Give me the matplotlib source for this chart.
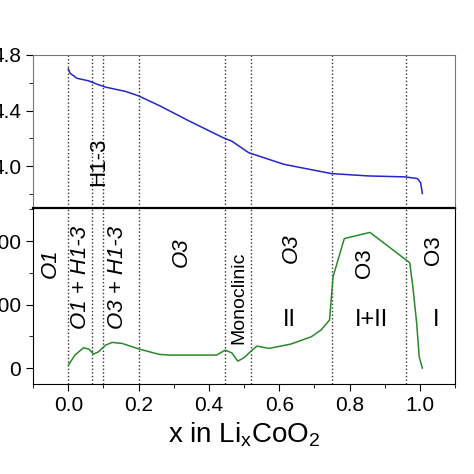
import matplotlib
matplotlib.use("Agg")
import matplotlib.pyplot as plt
from matplotlib.ticker import MultipleLocator

plt.rcParams['font.family'] = ['Liberation Sans', 'DejaVu Sans']

# voltage curve (upper panel)
x_volt = [0.0, 0.005, 0.024, 0.058, 0.086, 0.106, 0.163, 0.199, 0.259, 0.345,
          0.441, 0.465, 0.513, 0.614, 0.748, 0.854, 0.959, 0.993, 1.002, 1.007]
volt = [4.70, 4.669, 4.633, 4.614, 4.586, 4.569, 4.538, 4.507, 4.436, 4.324,
        4.205, 4.181, 4.098, 4.014, 3.948, 3.931, 3.924, 3.912, 3.883, 3.805]

# second quantity (lower panel)
x_low = [0.0, 0.019, 0.043, 0.058, 0.072, 0.086, 0.106, 0.125, 0.153, 0.201,
         0.259, 0.288, 0.422, 0.446, 0.465, 0.482, 0.499, 0.523, 0.537, 0.571,
         0.633, 0.691, 0.719, 0.743, 0.753, 0.785, 0.858, 0.971, 0.980, 0.991,
         0.998, 1.007]
low = [4.7, 20.5, 32, 30, 22, 25.7, 36.2, 40.4, 38.8, 30,
       21.5, 20.5, 20.5, 28.3, 24, 11, 16, 28.3, 34.6, 31,
       37.8, 49.3, 60, 75.6, 143.8, 204, 213.7, 166, 128, 70,
       17.8, 0]

# phase boundaries
boundaries = [0.0, 0.067, 0.1, 0.2, 0.445, 0.52, 0.75, 0.96]

# phase labels: (x, y, text, italic, size)
phase_labels = [
    (-0.05, 165, "O1", True, 16),
    (0.034, 143, "O1 + H1-3", True, 16),
    (0.14, 143, "O3 + H1-3", True, 16),
    (0.32, 183, "O3", True, 16),
    (0.484, 111, "Monoclinic", False, 14),
    (0.633, 189, "O3", True, 16),
    (0.843, 165, "O3", False, 16),
    (1.04, 186, "O3", False, 16),
]
region_labels = [(0.628, 75, "II"), (0.863, 75, "I+II"), (1.045, 75, "I")]

fig = plt.figure(figsize=(4.74, 4.74), dpi=100)
ax1 = fig.add_axes([0.07, 0.561, 0.89, 0.323])
ax2 = fig.add_axes([0.07, 0.19, 0.89, 0.371], sharex=ax1)

for ax in (ax1, ax2):
    for b in boundaries:
        ax.axvline(b, color='#333333', linestyle=(0, (1, 1.6)), linewidth=1)

ax1.plot(x_volt, volt, color='#2525cc', linewidth=1.1)
ax1.set_ylim(3.7, 4.8)
ax1.yaxis.set_minor_locator(MultipleLocator(0.2))
ax1.set_yticks([4.0, 4.4, 4.8])
ax1.tick_params(axis='x', which='both', bottom=False, labelbottom=False)
for s in ['top', 'right', 'left']:
    ax1.spines[s].set_color('#777777')
ax1.text(0.085, 4.03, "H1-3", rotation=90, ha='center', va='center', fontsize=16)

ax2.plot(x_low, low, color='#2a8a2a', linewidth=1.1)
ax2.set_ylim(-25, 252)
ax2.set_yticks([0, 100, 200])
ax2.yaxis.set_minor_locator(MultipleLocator(50))
ax2.set_xlim(-0.1, 1.1)
ax2.set_xticks([0.0, 0.2, 0.4, 0.6, 0.8, 1.0])
ax2.xaxis.set_minor_locator(MultipleLocator(0.1))
ax2.spines['top'].set_linewidth(1.6)

for x, y, t, it, fs in phase_labels:
    ax2.text(x, y, t, rotation=90, ha='center', va='center', fontsize=fs,
             style='italic' if it else 'normal')
for x, y, t in region_labels:
    ax2.text(x, y, t, ha='center', va='center', fontsize=17)

for ax in (ax1, ax2):
    ax.tick_params(which='both', direction='out', labelsize=15)
    ax.tick_params(which='major', length=5)
    ax.tick_params(which='minor', length=3)

ax2.set_xlabel(r"x in Li$_\mathregular{x}$CoO$_\mathregular{2}$", fontsize=20)

fig.savefig("out.png", dpi=100)
